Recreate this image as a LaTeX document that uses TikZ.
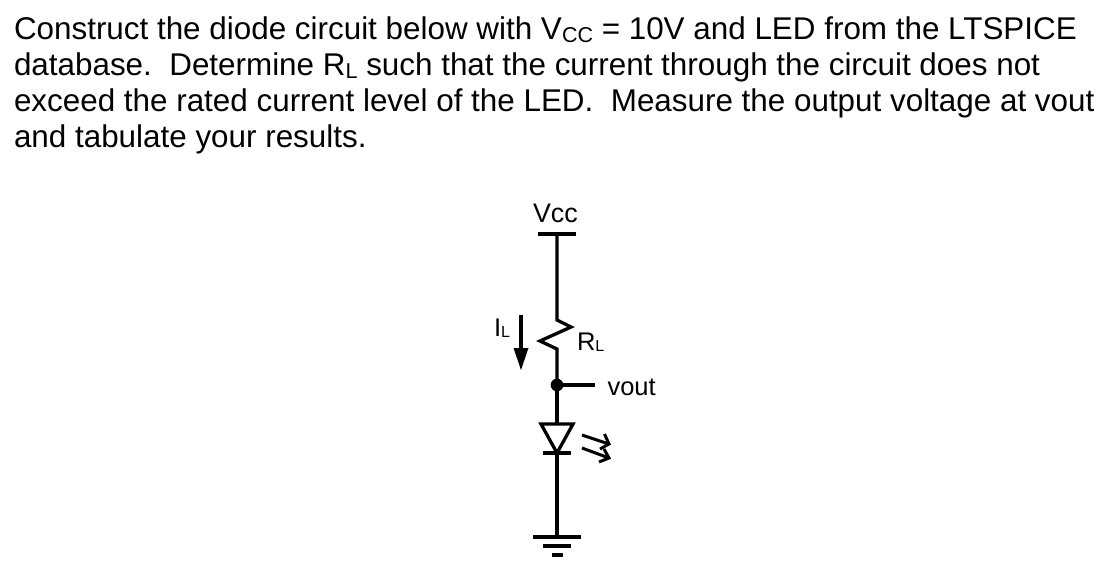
\documentclass[tikz,border=0pt]{standalone}
\usepackage{fontspec}
\setmainfont{Liberation Sans}
\usetikzlibrary{arrows.meta}
\newcommand{\sbs}[1]{\raisebox{-0.09em}{\fontsize{21.5}{22}\selectfont #1}}
\newcommand{\sbl}[1]{\raisebox{-0.06em}{\fontsize{16}{16}\selectfont #1}}
\tikzset{
  body/.style={anchor=base west,inner sep=0pt,outer sep=0pt,font=\fontsize{31.4}{32}\selectfont},
  lbl/.style={anchor=base west,inner sep=0pt,outer sep=0pt,font=\fontsize{25.5}{26}\selectfont},
  wire/.style={line width=3.3pt,black},
  thinwire/.style={line width=3pt,black}
}
\begin{document}
\begin{tikzpicture}[x=1pt,y=-1pt]
\useasboundingbox (0,0) rectangle (1120,582);
\fill[white] (0,0) rectangle (1120,582);
\node[body] (l1) at (14,39.5) {Construct the diode circuit below with V\sbs{CC} = 10V and LED from the LTSPICE};
\node[body] (l2) at (14,75.5) {database.\ \ Determine R\sbs{L} such that the current through the circuit does not};
\node[body] (l3) at (14,111.5) {exceed the rated current level of the LED.\ \ Measure the output voltage at vout};
\node[body] (l4) at (14,147.5) {and tabulate your results.};
\node[lbl,font=\fontsize{26.8}{27}\selectfont] (vcc) at (533,222) {Vcc};
\node[lbl] (il) at (494,336) {I\sbl{L}};
\node[lbl] (rl) at (577,350) {R\sbl{L}};
\node[lbl] (vout) at (607.5,395) {vout};
\coordinate (vt) at (557,234);
\coordinate (vbl) at (538,234);
\coordinate (vbr) at (576,234);
\coordinate (r0) at (557,320);
\coordinate (r1) at (571,327);
\coordinate (r2) at (540,341);
\coordinate (r3) at (557,349);
\coordinate (j) at (557,385);
\coordinate (vo) at (595,385);
\coordinate (dtop) at (557,424);
\coordinate (dl) at (541,424);
\coordinate (dr) at (573,424);
\coordinate (dtip) at (557,453);
\coordinate (cl) at (543,453);
\coordinate (cr) at (571,453);
\coordinate (g) at (557,537);
\coordinate (ia) at (521,315);
\coordinate (ib) at (521,349);
\coordinate (ic) at (521,370);
\draw[wire] (vbl) -- (vbr);
\draw[wire] (vt) -- (r0) -- (r1) -- (r2) -- (r3) -- (j);
\fill (j) circle (6.3);
\draw[wire] (j) -- (vo);
\draw[wire] (j) -- (dtop);
\draw[wire,line join=miter] (dl) -- (dr) -- (dtip) -- cycle;
\draw[wire] (cl) -- (cr);
\draw[wire] (dtip) -- (g);
\draw[wire] (533,537) -- (581,537);
\draw[wire] (543,546) -- (571,546);
\draw[wire] (552,555) -- (563,555);
\draw[wire] (ia) -- (ib);
\fill (513.5,348) -- (528.5,348) -- (ic) -- cycle;
\draw[thinwire] (582,435) -- (609,444);
\draw[thinwire] (604.5,434) -- (609,444) -- (600,449);
\draw[thinwire] (582,448) -- (609,458);
\draw[thinwire] (604,449) -- (609,458) -- (599,462);
\end{tikzpicture}
\end{document}
